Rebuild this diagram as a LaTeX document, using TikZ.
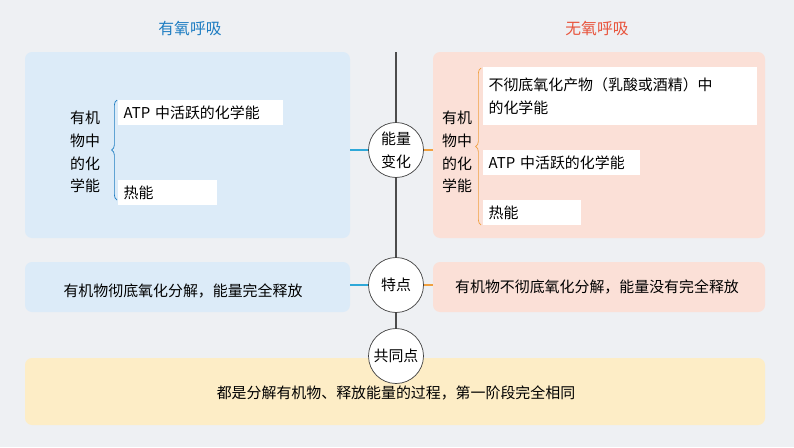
\documentclass[tikz,border=0pt]{standalone}
\usepackage{fontspec}
\usetikzlibrary{positioning,decorations.pathreplacing}
\newfontfamily\cjk{Noto Sans CJK SC}
\definecolor{bgGray}{HTML}{EEF0F3}
\definecolor{oxBlue}{HTML}{DCEBF8}
\definecolor{anoxRed}{HTML}{FBE0D7}
\definecolor{commonYel}{HTML}{FDEDC6}
\definecolor{titleBlue}{HTML}{1E7DC2}
\definecolor{titleRed}{HTML}{E8543C}
\definecolor{tickBlue}{HTML}{2FA8D8}
\definecolor{tickOrange}{HTML}{F0A040}
\tikzset{
  panel/.style={rounded corners=4pt,draw=none},
  hub/.style={circle,draw=black!75,fill=white,minimum size=1.1cm,inner sep=0pt,align=center},
  item/.style={fill=white,anchor=north west,inner sep=3pt,align=left},
  brc/.style={decorate,decoration={brace,amplitude=3pt},draw=#1,thin}
}
\begin{document}
\begin{tikzpicture}[x=0.02cm,y=-0.02cm,font=\cjk\fontsize{8.5}{13}\selectfont]
% Background
\fill[bgGray] (0,0) rectangle (794,447);
\useasboundingbox (0,0) rectangle (794,447);
% Headings
\node[titleBlue,font=\cjk\fontsize{9}{11}\selectfont] (oxTitle) at (190,28) {有氧呼吸};
\node[titleRed,font=\cjk\fontsize{9}{11}\selectfont] (anoxTitle) at (597,28) {无氧呼吸};
% Panels
\fill[panel,oxBlue] (25,52) rectangle (350,238);
\fill[panel,anoxRed] (433,52) rectangle (765,238);
\fill[panel,oxBlue] (25,262) rectangle (350,312);
\fill[panel,anoxRed] (433,262) rectangle (765,312);
\fill[panel,commonYel] (25,358) rectangle (765,425);
% Spine and hubs
\coordinate (top) at (396,52);
\node[hub] (energy) at (396,150) {能量\\变化};
\node[hub] (feature) at (396,285) {特点};
\node[hub] (common) at (396,356) {共同点};
\draw[black!70,thick] (top) -- (energy) -- (feature) -- (common);
% Ticks to panels
\coordinate (eL) at (350,150); \coordinate (eR) at (433,150);
\coordinate (fL) at (350,285); \coordinate (fR) at (433,285);
\draw[tickBlue,thick] (energy.west) -- (eL);
\draw[tickOrange,thick] (energy.east) -- (eR);
\draw[tickBlue,thick] (feature.west) -- (fL);
\draw[tickOrange,thick] (feature.east) -- (fR);
% Aerobic energy
\node[align=center] (oxSrc) at (85,152) {有机\\物中\\的化\\学能};
\draw[brc=titleBlue] (117,200) -- (117,100);
\node[item,text width=154*0.02cm] (oxATP) at (118,100) {ATP 中活跃的化学能};
\node[item,text width=88*0.02cm] (oxHeat) at (118,180) {热能};
% Anaerobic energy
\node[align=center] (anSrc) at (457,152) {有机\\物中\\的化\\学能};
\draw[brc=tickOrange] (481,225) -- (481,68);
\node[item,text width=263*0.02cm,inner ysep=6pt] (anRest) at (483,67) {不彻底氧化产物（乳酸或酒精）中\\的化学能};
\node[item,text width=146*0.02cm] (anATP) at (483,150) {ATP 中活跃的化学能};
\node[item,text width=87*0.02cm] (anHeat) at (483,200) {热能};
% Features
\node (oxFeat) at (183,291) {有机物彻底氧化分解，能量完全释放};
\node (anFeat) at (597,287) {有机物不彻底氧化分解，能量没有完全释放};
\node (commonTxt) at (396,393) {都是分解有机物、释放能量的过程，第一阶段完全相同};
\end{tikzpicture}
\end{document}
